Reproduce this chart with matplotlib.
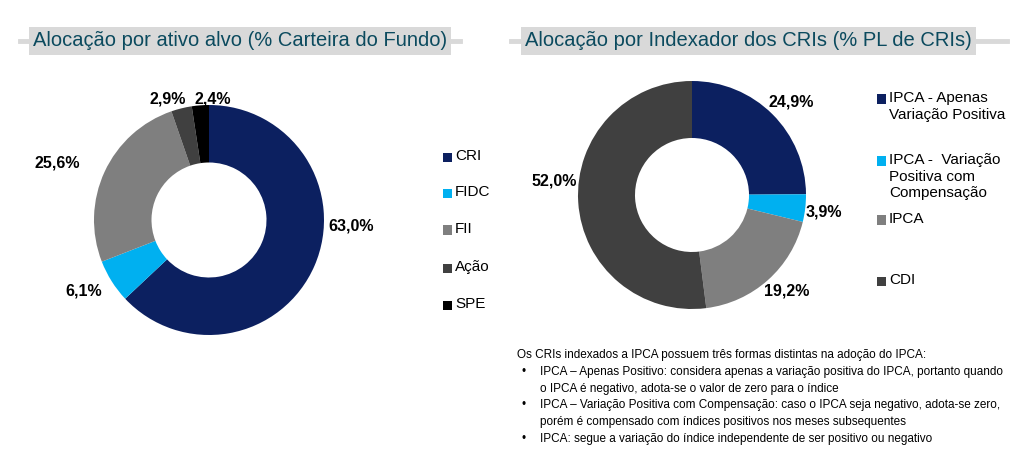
import matplotlib.pyplot as plt
from matplotlib.patches import Rectangle
from matplotlib.lines import Line2D

plt.rcParams['font.family'] = ['Liberation Sans', 'DejaVu Sans']

W, H = 1024, 466

# left chart: allocation by asset
ativo_labels = ["CRI", "FIDC", "FII", "Ação", "SPE"]
ativo_values = [63.0, 6.1, 25.6, 2.9, 2.4]
ativo_colors = ["#0c2060", "#00b0f0", "#7f7f7f", "#404040", "#000000"]

# right chart: allocation by indexer
index_labels = ["IPCA - Apenas\nVariação Positiva",
                "IPCA -  Variação\nPositiva com\nCompensação",
                "IPCA", "CDI"]
index_values = [24.9, 3.9, 19.2, 52.0]
index_colors = ["#0c2060", "#00b0f0", "#7f7f7f", "#404040"]

notes = [
    "Os CRIs indexados a IPCA possuem três formas distintas na adoção do IPCA:",
    "•\tIPCA – Apenas Positivo: considera apenas a variação positiva do IPCA, portanto quando",
    "\to IPCA é negativo, adota-se o valor de zero para o índice",
    "•\tIPCA – Variação Positiva com Compensação: caso o IPCA seja negativo, adota-se zero,",
    "\tporém é compensado com índices positivos nos meses subsequentes",
    "•\tIPCA: segue a variação do índice independente de ser positivo ou negativo",
]


def fx(x):
    return x / W


def fy(y):
    return 1 - y / H


def fmt(v):
    return f"{v:.1f}%".replace(".", ",")


fig = plt.figure(figsize=(W / 100, H / 100), dpi=100)


def donut(cx, cy, r, values, colors, label_pos):
    L = 1.3
    s = 2 * L * r
    ax = fig.add_axes([fx(cx - s / 2), fy(cy + s / 2), s / W, s / H])
    ax.pie(values, colors=colors, startangle=90, counterclock=False,
           radius=1, wedgeprops=dict(width=0.5, linewidth=0))
    ax.set_xlim(-L, L)
    ax.set_ylim(-L, L)
    ax.set_aspect("equal")
    ax.axis("off")
    for v, (lx, ly) in zip(values, label_pos):
        ax.text(lx, ly, fmt(v), ha="center", va="center",
                fontsize=11.5, fontweight="bold", color="black")


def title(text, x0, x1, xt, y):
    fig.add_artist(Line2D([fx(x0), fx(x1)], [fy(y), fy(y)], color="#d9d9d9",
                          linewidth=3.5, transform=fig.transFigure))
    fig.text(fx(xt), fy(y), text, ha="left", va="center", fontsize=14.5,
             color="#0b4a5e",
             bbox=dict(facecolor="#d9d9d9", edgecolor="none", pad=3))


def legend(x, ys, labels, colors):
    for y, lab, c in zip(ys, labels, colors):
        fig.add_artist(Rectangle((fx(x), fy(y + 4.5)), 9 / W, 9 / H,
                                 facecolor=c, edgecolor="none",
                                 transform=fig.transFigure))
        fig.text(fx(x + 12), fy(y - 8), lab, ha="left", va="top",
                 fontsize=11, linespacing=1.25)


title("Alocação por ativo alvo (% Carteira do Fundo)", 20, 460, 33, 41)
title("Alocação por Indexador dos CRIs (% PL de CRIs)", 511, 1007, 525, 41)

donut(209, 220, 115, ativo_values, ativo_colors,
      [(1.24, -0.05), (-1.09, -0.62), (-1.32, 0.50), (-0.36, 1.05), (0.03, 1.05)])
donut(692, 195, 114, index_values, index_colors,
      [(0.87, 0.82), (1.16, -0.15), (0.83, -0.84), (-1.21, 0.12)])

legend(443, [157, 193, 230, 268, 305], ativo_labels, ativo_colors)
legend(877, [99, 161, 220, 281], index_labels, index_colors)

for i, line in enumerate(notes):
    y = 355 + i * 16.8
    if line.startswith("•"):
        fig.text(fx(521), fy(y), "•", ha="left", va="center", fontsize=8.5)
        fig.text(fx(540), fy(y), line[2:], ha="left", va="center", fontsize=8.5)
    elif line.startswith("\t"):
        fig.text(fx(540), fy(y), line[1:], ha="left", va="center", fontsize=8.5)
    else:
        fig.text(fx(517), fy(y), line, ha="left", va="center", fontsize=8.5)

fig.savefig("out.png", dpi=100)
